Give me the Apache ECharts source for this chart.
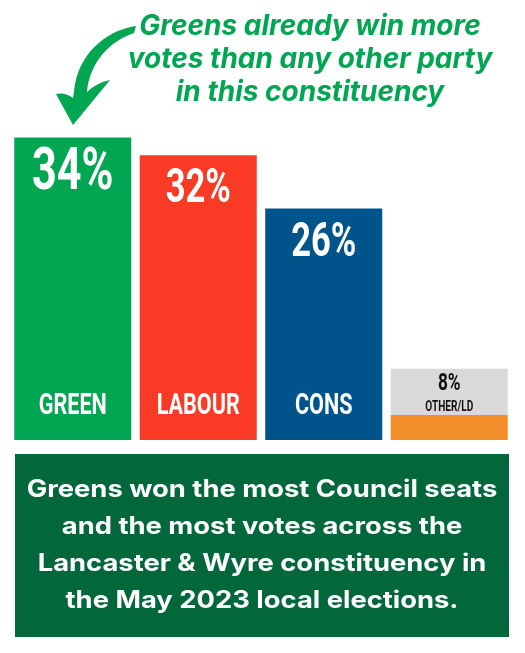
<!DOCTYPE html>
<html>
<head>
<meta charset="utf-8">
<script src="https://cdn.jsdelivr.net/npm/echarts@6/dist/echarts.min.js"></script>
<style>
  html, body { margin: 0; padding: 0; background: #fff; }
  #main { width: 525px; height: 653px; }
</style>
</head>
<body>
<div id="main"></div>
<script>
// data
var parties = ['GREEN', 'LABOUR', 'CONS', 'OTHER/LD'];
var voteShare = [34, 32, 26, 8];

var headline = 'Greens already win more\nvotes than any other party\nin this constituency';
var footnote = 'Greens won the most Council seats\nand the most votes across the\nLancaster & Wyre constituency in\nthe May 2023 local elections.';

var colors = ['#00a651', '#f93a24', '#00548c', null];
// no condensed font installed, so squeeze Roboto horizontally
var squeeze = 0.72;

// curved arrow pointing at the green bar
echarts.graphic.registerShape('curvedArrow', echarts.graphic.extendPath(
  'M 136 26 C 112 29, 82 48, 75 84 L 73 98 Q 65 92 56 94 L 73 125 L 110 80 Q 98 82 87 92 C 89 70, 102 44, 134 33 Z'
));

var chart = echarts.init(document.getElementById('main'));

var barData = voteShare.map(function (v, i) {
  var item = { value: v, itemStyle: {} };
  if (i === 3) {
    // grey label box with orange strip at the bottom
    item.itemStyle.color = new echarts.graphic.LinearGradient(0, 0, 0, 1, [
      { offset: 0, color: '#d9d9d9' },
      { offset: 0.65, color: '#d9d9d9' },
      { offset: 0.65, color: '#f28e2a' },
      { offset: 1, color: '#f28e2a' }
    ]);
  } else {
    item.itemStyle.color = colors[i];
  }
  return item;
});

var option = {
  animation: false,
  grid: { left: 10, right: 13, top: 84, bottom: 213 },
  xAxis: {
    type: 'category',
    data: parties,
    show: false
  },
  yAxis: {
    type: 'value',
    min: 0,
    max: 40,
    show: false
  },
  series: [
    {
      type: 'bar',
      barWidth: 117,
      data: barData
    }
  ]
};

option && chart.setOption(option);

// ---------- labels placed with the chart's own scales ----------
var graphics = [
  {
    type: 'curvedArrow',
    style: { fill: '#00a651' }
  },
  {
    type: 'text',
    x: 310,
    y: 10,
    style: {
      text: headline,
      align: 'center',
      verticalAlign: 'top',
      fill: '#00a651',
      font: 'italic bold 28px Inter, sans-serif',
      lineHeight: 33
    }
  },
  {
    type: 'rect',
    shape: { x: 15, y: 454, width: 494, height: 183 },
    style: { fill: '#02673b' }
  },
  {
    type: 'text',
    x: 262,
    y: 471,
    scaleX: 1.14,
    style: {
      text: footnote,
      align: 'center',
      verticalAlign: 'top',
      fill: '#fff',
      font: 'bold 24px Inter, sans-serif',
      lineHeight: 37
    }
  }
];

function condensed(x, y, text, size, color) {
  return {
    type: 'text',
    x: x,
    y: y,
    scaleX: squeeze,
    z: 10,
    style: {
      text: text,
      align: 'center',
      verticalAlign: 'middle',
      fill: color,
      font: 'bold ' + size + 'px Roboto, sans-serif'
    }
  };
}

voteShare.forEach(function (v, i) {
  var top = chart.convertToPixel({ xAxisIndex: 0, yAxisIndex: 0 }, [i, v]);
  var base = chart.convertToPixel({ xAxisIndex: 0, yAxisIndex: 0 }, [i, 0]);
  if (i === 3) {
    graphics.push(condensed(top[0], top[1] + 15, v + '%', 24, '#111'));
    graphics.push(condensed(base[0], base[1] - 33, parties[i], 14, '#111'));
  } else {
    var big = i === 0 ? 60 : 48;
    graphics.push(condensed(top[0], top[1] + (i === 0 ? 37 : 35), v + '%', big, '#fff'));
    graphics.push(condensed(base[0], base[1] - 34, parties[i], 30, '#fff'));
  }
});

chart.setOption({ graphic: graphics });
</script>
</body>
</html>
